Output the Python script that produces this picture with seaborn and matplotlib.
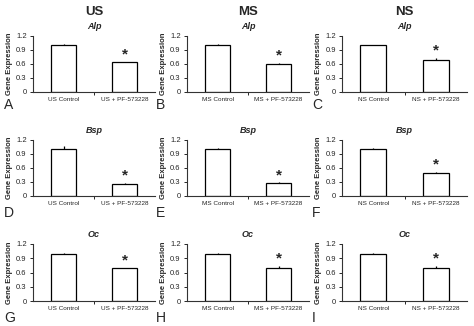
import matplotlib
matplotlib.use("Agg")
import matplotlib.pyplot as plt
import seaborn as sns
import pandas as pd
import numpy as np

sns.set_style("white")
plt.rcParams['font.family'] = ['Liberation Sans', 'DejaVu Sans']

groups = ["US", "MS", "NS"]
genes = ["Alp", "Bsp", "Oc"]
panel_letters = [["A", "B", "C"], ["D", "E", "F"], ["G", "H", "I"]]

control_vals = {
    "Alp": [1.00, 1.00, 1.00],
    "Bsp": [1.00, 1.00, 1.00],
    "Oc":  [1.00, 1.00, 1.00],
}
treated_vals = {
    "Alp": [0.64, 0.60, 0.68],
    "Bsp": [0.26, 0.27, 0.49],
    "Oc":  [0.69, 0.70, 0.70],
}
control_err = {
    "Alp": [0.03, 0.02, 0.01],
    "Bsp": [0.07, 0.03, 0.02],
    "Oc":  [0.02, 0.02, 0.01],
}
treated_err = {
    "Alp": [0.01, 0.03, 0.04],
    "Bsp": [0.01, 0.02, 0.02],
    "Oc":  [0.01, 0.03, 0.04],
}
yticks = [0, 0.3, 0.6, 0.9, 1.2]
ytick_labels = ["0", "0.3", "0.6", "0.9", "1.2"]

W, H = 474, 326
fig = plt.figure(figsize=(W / 100, H / 100), dpi=100)

col_px = [(33, 155), (187, 309), (342, 467)]
row_px = [(36, 92), (140, 196), (244, 301)]

for r, gene in enumerate(genes):
    for c, grp in enumerate(groups):
        x0, x1 = col_px[c]
        yt, yb = row_px[r]
        ax = fig.add_axes([x0 / W, 1 - yb / H, (x1 - x0) / W, (yb - yt) / H])
        cats = [f"{grp} Control", f"{grp} + PF-573228"]
        vals = [control_vals[gene][c], treated_vals[gene][c]]
        errs = [control_err[gene][c], treated_err[gene][c]]
        df = pd.DataFrame({"cond": cats, "val": vals})
        sns.barplot(data=df, x="cond", y="val", ax=ax, color="white",
                    edgecolor="black", linewidth=0.9, width=0.41, errorbar=None)
        ax.errorbar(range(2), vals, yerr=[[0, 0], errs], fmt="none",
                    ecolor="black", elinewidth=0.9, capsize=0)
        ax.text(1, vals[1] + errs[1] + 0.01, "*", ha="center", va="bottom",
                fontsize=11, fontweight="bold")
        ax.set_xlim(-0.5, 1.5)
        ax.set_ylim(0, 1.2)
        ax.set_yticks(yticks)
        ax.set_yticklabels(ytick_labels, fontsize=5.5)
        ax.set_xticks([0, 1])
        ax.set_xticklabels(cats, fontsize=4.6)
        ax.tick_params(axis="x", length=0, pad=3.5)
        ax.tick_params(axis="y", length=2.5, width=0.7, direction="out", pad=2, left=True)
        ax.set_xticks([0.5], minor=True)
        ax.tick_params(axis="x", which="minor", length=2.5, width=0.7, direction="out", bottom=True)
        ax.set_xlabel("")
        ax.set_ylabel("Gene Expression", fontsize=5.5, fontweight="bold", labelpad=2.5)
        for s in ["top", "right"]:
            ax.spines[s].set_visible(False)
        for s in ["left", "bottom"]:
            ax.spines[s].set_color("#333333")
            ax.spines[s].set_linewidth(0.8)
        ax.set_title(gene, fontsize=6.5, fontweight="bold", style="italic", pad=5)
        if r == 0:
            ax.text(0.5, 1.33, grp, transform=ax.transAxes, ha="center",
                    va="bottom", fontsize=9.5, fontweight="bold")
        lx = [4, 156, 312][c]
        ly = [109, 217, 322][r]
        fig.text(lx / W, 1 - ly / H, panel_letters[r][c], fontsize=10,
                 ha="left", va="baseline")

fig.savefig("out.png", dpi=100)
